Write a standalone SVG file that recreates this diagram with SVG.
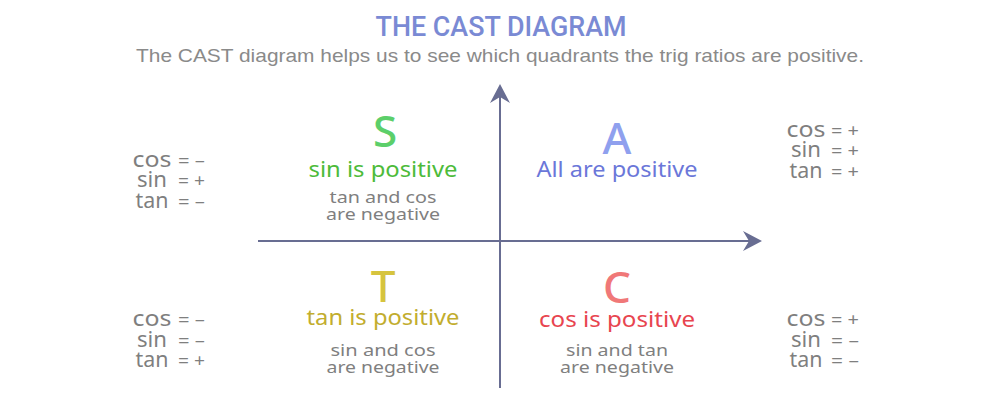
<svg xmlns="http://www.w3.org/2000/svg" width="1000" height="410" viewBox="0 0 1000 410">
<style>
.t{font-family:"Liberation Sans","Noto Sans",sans-serif;}
.title{font-family:Roboto,"Liberation Sans",sans-serif;font-size:28px;font-weight:500;fill:#7a8ad4;text-anchor:middle;}
.sub{font-size:19px;fill:#8a8a8a;text-anchor:middle;}
.big{font-family:"Noto Sans","Liberation Sans",sans-serif;font-size:44px;font-weight:500;text-anchor:middle;}
.pos{font-family:"Noto Sans","Liberation Sans",sans-serif;font-size:21px;font-weight:400;text-anchor:middle;}
.neg{font-family:"Noto Sans","Liberation Sans",sans-serif;font-size:17px;fill:#7f7f7f;text-anchor:middle;}
.fn{font-family:"Noto Sans","Liberation Sans",sans-serif;font-size:22px;fill:#7f7f7f;text-anchor:middle;}
.eq{font-family:"Noto Sans","Liberation Sans",sans-serif;font-size:18px;fill:#7f7f7f;}
.axis{stroke:#686d92;stroke-width:2;fill:none;}
.head{fill:#686d92;}
</style>
<rect width="1000" height="410" fill="#ffffff"/>
<g id="header">
<text class="title" x="501" y="36" textLength="251" lengthAdjust="spacingAndGlyphs">THE CAST DIAGRAM</text>
<text class="t sub" x="500" y="62" textLength="728" lengthAdjust="spacingAndGlyphs">The CAST diagram helps us to see which quadrants the trig ratios are positive.</text>
</g>
<g id="axes">
<line class="axis" x1="258" y1="241" x2="750" y2="241"/>
<polygon class="head" points="762,241 743,231 749,241 743,251"/>
<line class="axis" x1="500" y1="388" x2="500" y2="96"/>
<polygon class="head" points="500,84 510,103 500,97 490,103"/>
</g>
<g id="quadrant-S">
<text class="big" x="385" y="147" fill="#5ccf6a">S</text>
<text class="pos" x="383" y="177" fill="#4dbb3a" textLength="149" lengthAdjust="spacingAndGlyphs">sin is positive</text>
<text class="neg" x="383" y="203" textLength="107" lengthAdjust="spacingAndGlyphs">tan and cos</text>
<text class="neg" x="383" y="220" textLength="114" lengthAdjust="spacingAndGlyphs">are negative</text>
</g>
<g id="quadrant-A">
<text class="big" x="617" y="154" fill="#8fa0ee">A</text>
<text class="pos" x="617" y="177" fill="#6b77d9" textLength="161" lengthAdjust="spacingAndGlyphs">All are positive</text>
</g>
<g id="quadrant-T">
<text class="big" x="383" y="302" fill="#d6c43e">T</text>
<text class="pos" x="383" y="325" fill="#c2ad2e" textLength="153" lengthAdjust="spacingAndGlyphs">tan is positive</text>
<text class="neg" x="383" y="356" textLength="105" lengthAdjust="spacingAndGlyphs">sin and cos</text>
<text class="neg" x="383" y="373" textLength="113" lengthAdjust="spacingAndGlyphs">are negative</text>
</g>
<g id="quadrant-C">
<text class="big" x="617" y="303" fill="#f07878">C</text>
<text class="pos" x="617" y="327" fill="#e8454f" textLength="156" lengthAdjust="spacingAndGlyphs">cos is positive</text>
<text class="neg" x="617" y="356" textLength="102" lengthAdjust="spacingAndGlyphs">sin and tan</text>
<text class="neg" x="617" y="373" textLength="114" lengthAdjust="spacingAndGlyphs">are negative</text>
</g>
<g id="signs-S">
<text class="fn" x="152" y="167" textLength="39" lengthAdjust="spacingAndGlyphs">cos</text><text class="eq" x="178" y="167" textLength="27" lengthAdjust="spacingAndGlyphs">= –</text>
<text class="fn" x="152" y="187" textLength="30" lengthAdjust="spacingAndGlyphs">sin</text><text class="eq" x="178" y="187" textLength="27" lengthAdjust="spacingAndGlyphs">= +</text>
<text class="fn" x="152" y="208" textLength="33" lengthAdjust="spacingAndGlyphs">tan</text><text class="eq" x="178" y="208" textLength="27" lengthAdjust="spacingAndGlyphs">= –</text>
</g>
<g id="signs-A">
<text class="fn" x="806" y="137" textLength="39" lengthAdjust="spacingAndGlyphs">cos</text><text class="eq" x="831" y="137" textLength="28" lengthAdjust="spacingAndGlyphs">= +</text>
<text class="fn" x="806" y="157" textLength="30" lengthAdjust="spacingAndGlyphs">sin</text><text class="eq" x="831" y="157" textLength="28" lengthAdjust="spacingAndGlyphs">= +</text>
<text class="fn" x="806" y="178" textLength="33" lengthAdjust="spacingAndGlyphs">tan</text><text class="eq" x="831" y="178" textLength="28" lengthAdjust="spacingAndGlyphs">= +</text>
</g>
<g id="signs-T">
<text class="fn" x="152" y="326" textLength="39" lengthAdjust="spacingAndGlyphs">cos</text><text class="eq" x="178" y="326" textLength="27" lengthAdjust="spacingAndGlyphs">= –</text>
<text class="fn" x="152" y="347" textLength="30" lengthAdjust="spacingAndGlyphs">sin</text><text class="eq" x="178" y="347" textLength="27" lengthAdjust="spacingAndGlyphs">= –</text>
<text class="fn" x="152" y="367" textLength="33" lengthAdjust="spacingAndGlyphs">tan</text><text class="eq" x="178" y="367" textLength="27" lengthAdjust="spacingAndGlyphs">= +</text>
</g>
<g id="signs-C">
<text class="fn" x="806" y="326" textLength="39" lengthAdjust="spacingAndGlyphs">cos</text><text class="eq" x="831" y="326" textLength="28" lengthAdjust="spacingAndGlyphs">= +</text>
<text class="fn" x="806" y="347" textLength="30" lengthAdjust="spacingAndGlyphs">sin</text><text class="eq" x="831" y="347" textLength="28" lengthAdjust="spacingAndGlyphs">= –</text>
<text class="fn" x="806" y="367" textLength="33" lengthAdjust="spacingAndGlyphs">tan</text><text class="eq" x="831" y="367" textLength="28" lengthAdjust="spacingAndGlyphs">= –</text>
</g>
</svg>
